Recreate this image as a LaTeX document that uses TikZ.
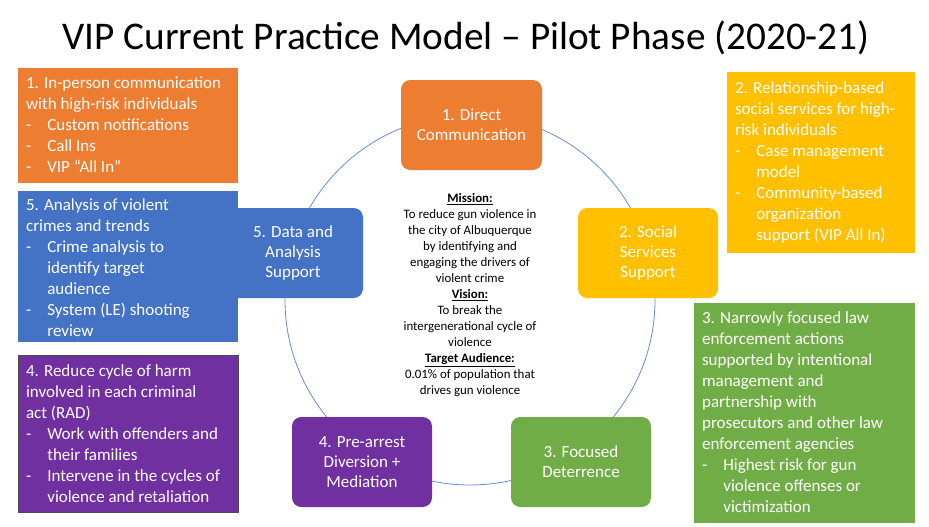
\documentclass[tikz,border=0pt]{standalone}
\usepackage{fontspec}
\setmainfont{Carlito}
\newcommand\dl[1]{\makebox[1.25em][l]{-}#1}
\newcommand\cl[1]{\hspace*{1.25em}#1}
\definecolor{cor}{HTML}{ED7D31}
\definecolor{cye}{HTML}{FFC000}
\definecolor{cgr}{HTML}{70AD47}
\definecolor{cpu}{HTML}{7030A0}
\definecolor{cbl}{HTML}{4472C4}
\begin{document}
\begin{tikzpicture}[x=0.03cm,y=-0.03cm,
  hubt/.style={text=white,align=center,font=\fontsize{14.5}{17.2}\selectfont},
  side/.style={text=white,anchor=north west,inner sep=5pt,align=left,font=\fontsize{14.5}{17.9}\selectfont}]
\useasboundingbox[fill=white] (0,0) rectangle (929,526);
\node (title) at (466,38) {\fontsize{33.5}{36}\selectfont VIP Current Practice Model -- Pilot Phase (2020-21)};
\draw[cbl!80,line width=0.7pt] (470,300) circle (185);
\fill[cor,rounded corners=8pt] (401,80) rectangle (542,170);
\node[hubt] (t1) at (471.5,125) {1. Direct\\Communication};
\fill[cye,rounded corners=8pt] (578,208) rectangle (718,298);
\node[hubt] (t2) at (648,253) {2. Social\\Services\\Support};
\fill[cgr,rounded corners=8pt] (511,417) rectangle (651,507);
\node[hubt] (t3) at (581,462) {3. Focused\\Deterrence};
\fill[cpu,rounded corners=8pt] (292,417) rectangle (432,507);
\node[hubt] (t4) at (362,462) {4. Pre-arrest\\Diversion +\\Mediation};
\fill[cbl,rounded corners=8pt] (223,208) rectangle (363,298);
\node[hubt] (t5) at (293,253) {5. Data and\\Analysis\\Support};
\node[align=center,font=\fontsize{11}{13.6}\selectfont] (mid) at (470,295) {\textbf{\underline{Mission:}}\\To reduce gun violence in\\the city of Albuquerque\\by identifying and\\engaging the drivers of\\violent crime\\\textbf{\underline{Vision:}}\\To break the\\intergenerational cycle of\\violence\\\textbf{\underline{Target Audience:}}\\0.01\% of population that\\drives gun violence};
\fill[cor] (18,68) rectangle (238,183);
\node[side] (s1) at (20,71) {1. In-person communication\\with high-risk individuals\\\dl{Custom notifications}\\\dl{Call Ins}\\\dl{VIP ``All In''}};
\fill[cbl] (18,191) rectangle (238,342);
\node[side] (s5) at (20,193) {5. Analysis of violent\\crimes and trends\\\dl{Crime analysis to}\\\cl{identify target}\\\cl{audience}\\\dl{System (LE) shooting}\\\cl{review}};
\filldraw[fill=cpu,draw=black!70] (18,355) rectangle (238,512);
\node[side] (s4) at (20,359) {4. Reduce cycle of harm\\involved in each criminal\\act (RAD)\\\dl{Work with offenders and}\\\cl{their families}\\\dl{Intervene in the cycles of}\\\cl{violence and retaliation}};
\fill[cye] (727,72) rectangle (915,253);
\node[side] (s2) at (729,76) {2. Relationship-based\\social services for high-\\risk individuals\\\dl{Case management}\\\cl{model}\\\dl{Community-based}\\\cl{organization}\\\cl{support (VIP All In)}};
\fill[cgr] (694,303) rectangle (915,523);
\node[side] (s3) at (696,306) {3. Narrowly focused law\\enforcement actions\\supported by intentional\\management and\\partnership with\\prosecutors and other law\\enforcement agencies\\\dl{Highest risk for gun}\\\cl{violence offenses or}\\\cl{victimization}};
\end{tikzpicture}
\end{document}
